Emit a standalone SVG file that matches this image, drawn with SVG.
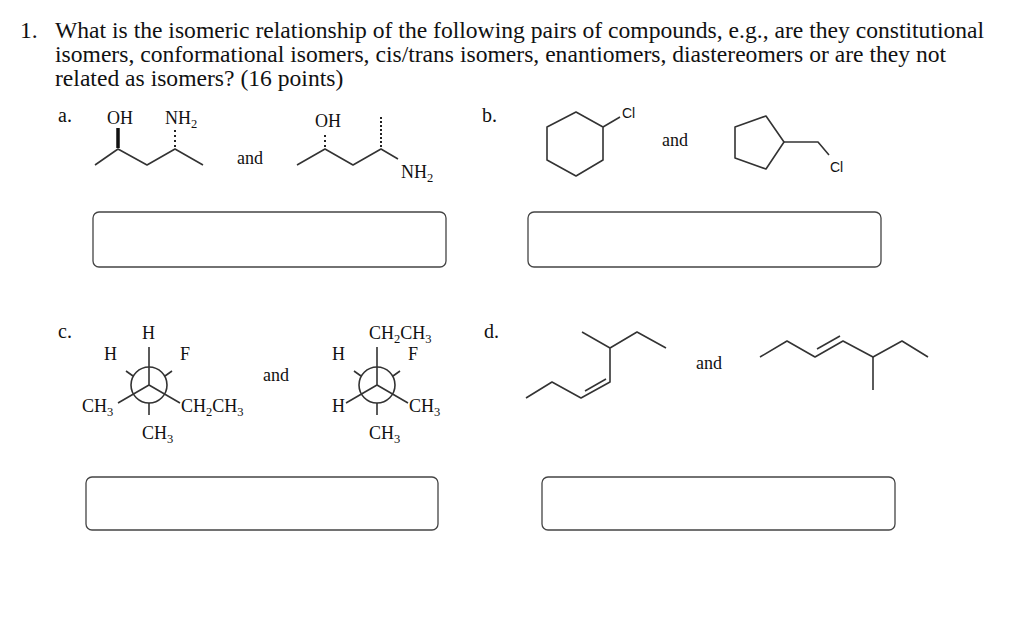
<svg xmlns="http://www.w3.org/2000/svg" width="1024" height="618" viewBox="0 0 1024 618">
<style>
text{font-family:"Liberation Serif","Times New Roman",serif;fill:#111}
.h{font-size:23.6px}
.l{font-size:20px}
.c{font-size:18px}
.s{font-size:12.5px}
.cl{font-family:"Liberation Sans",sans-serif;font-size:14px}
.b{fill:none;stroke:#333;stroke-width:1.6;stroke-linejoin:round}
.box{fill:none;stroke:#444;stroke-width:1.3}
</style>
<rect width="1024" height="618" fill="#fff"/>
<text class="h" x="20" y="38">1.</text>
<text class="h" x="55" y="38">What is the isomeric relationship of the following pairs of compounds, e.g., are they constitutional</text>
<text class="h" x="55" y="62">isomers, conformational isomers, cis/trans isomers, enantiomers, diastereomers or are they not</text>
<text class="h" x="55" y="86">related as isomers? (16 points)</text>
<text class="l" x="58" y="122">a.</text>
<text class="l" x="482" y="122">b.</text>
<text class="l" x="58" y="338">c.</text>
<text class="l" x="484" y="338">d.</text>
<g id="a">
<polyline class="b" points="95,165 118,149 147,165 175,149 203,165"/>
<path d="M118,148v-20" stroke="#111" stroke-width="3.5"/>
<path d="M175,147v-2M175,142v-2M175,137v-2M175,132v-2" stroke="#222" stroke-width="2"/>
<text class="c" x="107" y="124">OH</text>
<text class="c" x="165" y="124">NH<tspan class="s" dy="4">2</tspan></text>
<text class="c" x="237" y="164">and</text>
<polyline class="b" points="297,165 325,149 353,165 381,149 398,159"/>
<path d="M325,147v-2M325,142v-2M325,137v-2" stroke="#222" stroke-width="2"/>
<path d="M381,147v-2M381,143v-2M381,139v-2M381,135v-2M381,131v-2M381,127v-2M381,123v-2M381,119v-2" stroke="#222" stroke-width="2"/>
<text class="c" x="315" y="127">OH</text>
<text class="c" x="401" y="178">NH<tspan class="s" dy="4">2</tspan></text>
</g>
<g id="b">
<polygon class="b" points="576,112 603,127 603,160 576,176 547,160 547,127"/>
<line class="b" x1="603" y1="127" x2="620" y2="117"/>
<text class="cl" x="622" y="118">Cl</text>
<text class="c" x="662" y="146">and</text>
<polygon class="b" points="766,116 784,142 766,169 735,158 735,127"/>
<polyline class="b" points="784,142 818,142 829,155"/>
<text class="cl" x="830" y="172">Cl</text>
</g>
<g id="c">
<circle class="b" cx="149" cy="385" r="18"/>
<path class="b" d="M149,385V347M149,385L118,403M149,385L180,403M133,376L126,371M165,376L172,371M149,403V415"/>
<text class="c" x="142" y="339">H</text>
<text class="c" x="104" y="360">H</text>
<text class="c" x="180" y="360">F</text>
<text class="c" x="82" y="412">CH<tspan class="s" dy="4">3</tspan></text>
<text class="c" x="181" y="412">CH<tspan class="s" dy="4">2</tspan><tspan dy="-4">CH</tspan><tspan class="s" dy="4">3</tspan></text>
<text class="c" x="142" y="439">CH<tspan class="s" dy="4">3</tspan></text>
<text class="c" x="263" y="381">and</text>
<circle class="b" cx="377" cy="385" r="18"/>
<path class="b" d="M377,385V347M377,385L346,403M377,385L408,403M361,376L354,371M393,376L400,371M377,403V415"/>
<text class="c" x="369" y="339">CH<tspan class="s" dy="4">2</tspan><tspan dy="-4">CH</tspan><tspan class="s" dy="4">3</tspan></text>
<text class="c" x="332" y="360">H</text>
<text class="c" x="408" y="360">F</text>
<text class="c" x="332" y="412">H</text>
<text class="c" x="409" y="412">CH<tspan class="s" dy="4">3</tspan></text>
<text class="c" x="369" y="439">CH<tspan class="s" dy="4">3</tspan></text>
</g>
<g id="d">
<polyline class="b" points="526,398 552,382 581,398 610,382 610,348 637,332 666,348"/>
<line class="b" x1="610" y1="348" x2="582" y2="332"/>
<line class="b" x1="585" y1="391" x2="606" y2="379"/>
<text class="c" x="696" y="369">and</text>
<polyline class="b" points="760,357 787,341 815,357 843,341 873,357 902,341 928,357"/>
<line class="b" x1="873" y1="357" x2="873" y2="390"/>
<line class="b" x1="817" y1="349" x2="840" y2="336"/>
</g>
<g id="boxes">
<rect class="box" x="93" y="212" width="353" height="55" rx="6"/>
<rect class="box" x="528" y="212" width="353" height="55" rx="6"/>
<rect class="box" x="86" y="477" width="352" height="53" rx="6"/>
<rect class="box" x="542" y="477" width="353" height="53" rx="6"/>
</g>
</svg>
